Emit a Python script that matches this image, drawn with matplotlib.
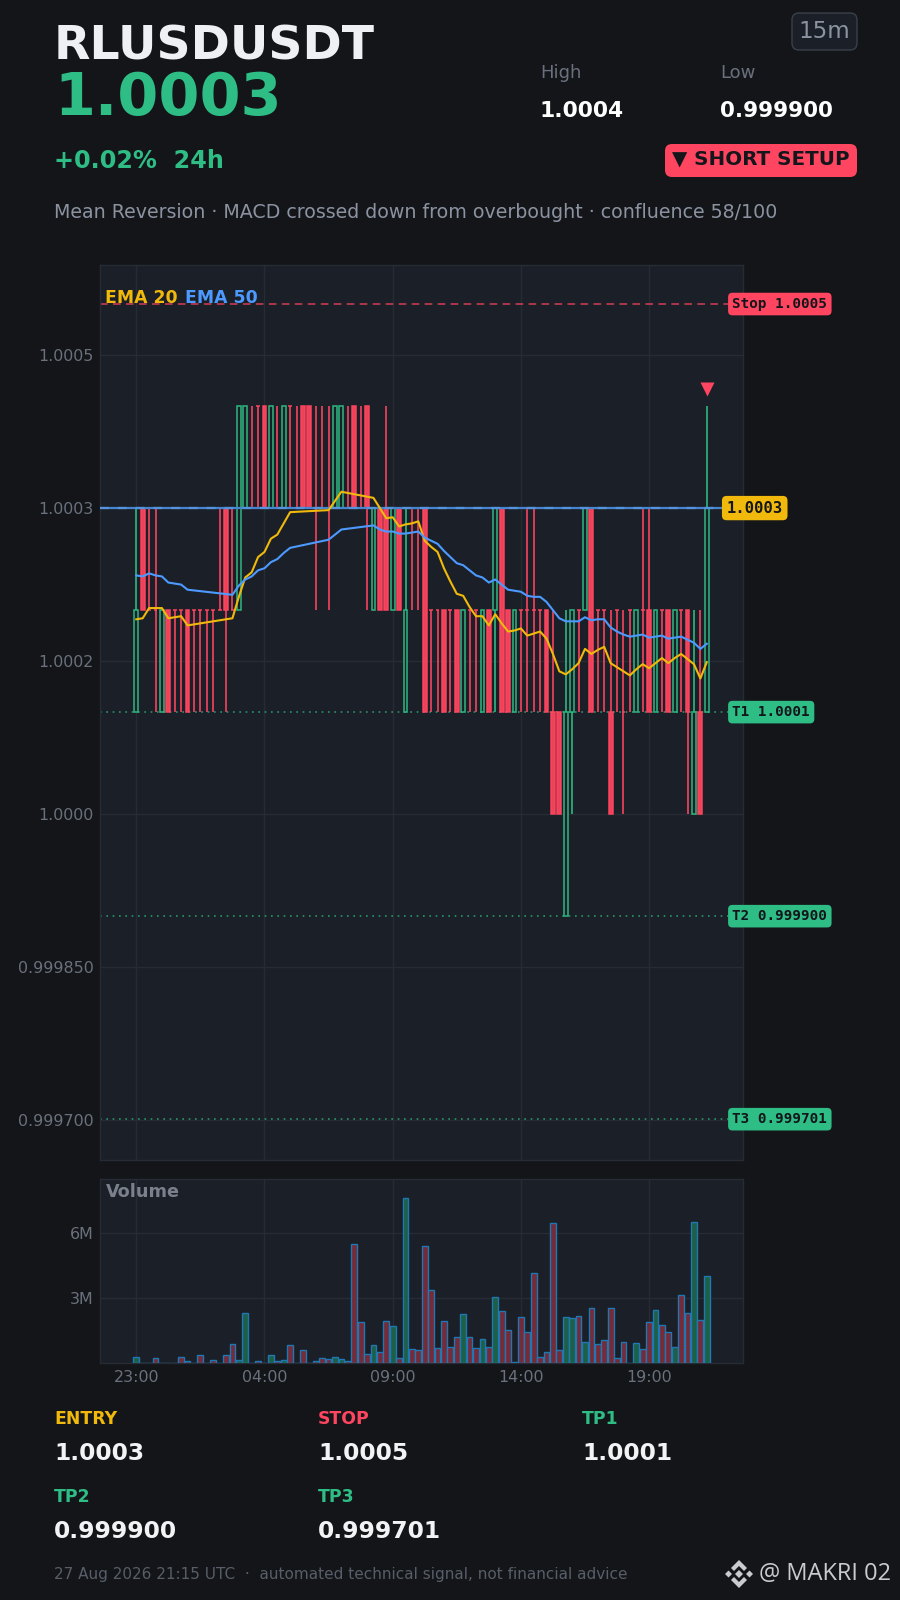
import matplotlib
matplotlib.use("Agg")
import matplotlib.pyplot as plt
from matplotlib.patches import FancyBboxPatch, Polygon
from matplotlib.transforms import Affine2D, ScaledTranslation, blended_transform_factory

plt.rcParams["font.family"] = "DejaVu Sans"

BG = "#131519"
PANEL = "#1b1f27"
GRID = "#272b33"
RED = "#ff4560"
GREEN = "#2ebd85"
YELLOW = "#f0b90b"
BLUE = "#4c9aff"
GRAY = "#8b93a1"
DIM = "#6a717d"

# ohlc, one row per 15m candle
opens = [1.0001,1.0003,1.0002,1.0002,1.0001,1.0002,1.0002,1.0002,1.0002,1.0002,
         1.0002,1.0002,1.0002,1.0002,1.0003,1.0002,1.0002,1.0003,1.0003,1.0004,
         1.0004,1.0003,1.0003,1.0003,1.0004,1.0003,1.0004,1.0004,1.0003,1.0003,
         1.0003,1.0003,1.0003,1.0003,1.0004,1.0003,1.0004,1.0002,1.0003,1.0003,
         1.0002,1.0003,1.0001,1.0003,1.0003,1.0003,1.0002,1.0002,1.0002,1.0002,
         1.0002,1.0001,1.0002,1.0002,1.0001,1.0002,1.0002,1.0003,1.0002,1.0001,
         1.0002,1.0002,1.0002,1.0002,1.0002,1.0001,1.0001,0.9999,1.0001,1.0002,
         1.0002,1.0003,1.0002,1.0002,1.0001,1.0002,1.0001,1.0002,1.0001,1.0002,
         1.0002,1.0001,1.0002,1.0002,1.0001,1.0002,1.0002,1.0000,1.0001,1.0001]
closes = [1.0002,1.0002,1.0002,1.0002,1.0002,1.0001,1.0002,1.0002,1.0001,1.0002,
          1.0002,1.0002,1.0002,1.0002,1.0002,1.0002,1.0004,1.0004,1.0003,1.0004,
          1.0003,1.0004,1.0003,1.0004,1.0004,1.0003,1.0003,1.0003,1.0003,1.0003,
          1.0003,1.0004,1.0004,1.0003,1.0003,1.0003,1.0003,1.0003,1.0002,1.0002,
          1.0003,1.0002,1.0002,1.0003,1.0003,1.0001,1.0002,1.0002,1.0001,1.0002,
          1.0001,1.0002,1.0002,1.0002,1.0002,1.0001,1.0003,1.0001,1.0001,1.0002,
          1.0002,1.0002,1.0002,1.0002,1.0001,1.0000,1.0000,1.0001,1.0002,1.0002,
          1.0003,1.0001,1.0002,1.0002,1.0000,1.0002,1.0001,1.0002,1.0002,1.0002,
          1.0001,1.0002,1.0002,1.0001,1.0002,1.0002,1.0001,1.0001,1.0000,1.0003]
highs = [1.0003,1.0003,1.0003,1.0003,1.0002,1.0002,1.0002,1.0002,1.0002,1.0002,
         1.0002,1.0002,1.0002,1.0003,1.0003,1.0003,1.0004,1.0004,1.0004,1.0004,
         1.0004,1.0004,1.0004,1.0004,1.0004,1.0004,1.0004,1.0004,1.0004,1.0004,
         1.0004,1.0004,1.0004,1.0004,1.0004,1.0004,1.0004,1.0003,1.0003,1.0004,
         1.0003,1.0003,1.0003,1.0003,1.0003,1.0003,1.0002,1.0002,1.0002,1.0002,
         1.0002,1.0002,1.0002,1.0002,1.0002,1.0002,1.0003,1.0003,1.0002,1.0002,
         1.0002,1.0003,1.0003,1.0002,1.0002,1.0002,1.0001,1.0002,1.0002,1.0002,
         1.0003,1.0003,1.0002,1.0002,1.0002,1.0002,1.0002,1.0002,1.0002,1.0003,
         1.0003,1.0002,1.0002,1.0002,1.0002,1.0002,1.0002,1.0002,1.0002,1.0004]
lows = [1.0001,1.0002,1.0002,1.0001,1.0001,1.0001,1.0001,1.0001,1.0001,1.0001,
        1.0001,1.0001,1.0001,1.0002,1.0001,1.0002,1.0002,1.0003,1.0003,1.0003,
        1.0003,1.0003,1.0003,1.0003,1.0003,1.0003,1.0003,1.0003,1.0002,1.0003,
        1.0002,1.0003,1.0003,1.0003,1.0003,1.0003,1.0002,1.0002,1.0002,1.0002,
        1.0002,1.0002,1.0001,1.0002,1.0002,1.0001,1.0001,1.0001,1.0001,1.0001,
        1.0001,1.0001,1.0001,1.0001,1.0001,1.0001,1.0001,1.0001,1.0001,1.0001,
        1.0001,1.0001,1.0001,1.0001,1.0001,1.0000,1.0000,0.9999,1.0000,1.0001,
        1.0002,1.0001,1.0001,1.0001,1.0000,1.0001,1.0000,1.0001,1.0001,1.0001,
        1.0001,1.0001,1.0001,1.0001,1.0001,1.0001,1.0000,1.0000,1.0000,1.0001]

# ema has no value on the very thin stretches, line just joins across them
ema_idx = [0,1,2,3,4,5,6,7,8,15,16,17,18,19,20,21,22,23,24,30,31,32,37,38,39,40,41,42,43,44,
           45,46,47,48,49,50,51,52,53,54,55,56,57,58,59,60,61,62,63,64,65,66,67,68,69,70,
           71,72,73,74,75,76,77,78,79,80,81,82,83,84,85,86,87,88,89]
ema20 = [1.000191,1.000192,1.000202,1.000202,1.000202,1.000192,1.000193,1.000194,1.000185,1.000192,
         1.000213,1.000232,1.000237,1.000252,1.000257,1.000270,1.000274,1.000285,1.000296,1.000298,
         1.000307,1.000316,1.000310,1.000300,1.000290,1.000291,1.000282,1.000284,1.000285,1.000287,
         1.000268,1.000262,1.000257,1.000241,1.000228,1.000216,1.000214,1.000203,1.000194,1.000194,
         1.000185,1.000196,1.000187,1.000179,1.000180,1.000182,1.000175,1.000177,1.000179,1.000172,
         1.000157,1.000140,1.000137,1.000142,1.000148,1.000162,1.000157,1.000161,1.000164,1.000148,
         1.000144,1.000140,1.000136,1.000142,1.000147,1.000143,1.000148,1.000153,1.000148,1.000153,
         1.000157,1.000152,1.000147,1.000133,1.000149]
ema50 = [1.000234,1.000233,1.000236,1.000234,1.000233,1.000227,1.000226,1.000225,1.000220,1.000215,
         1.000224,1.000230,1.000233,1.000239,1.000241,1.000247,1.000250,1.000256,1.000261,1.000269,
         1.000274,1.000279,1.000283,1.000279,1.000277,1.000277,1.000275,1.000275,1.000276,1.000277,
         1.000271,1.000268,1.000265,1.000258,1.000252,1.000246,1.000244,1.000239,1.000234,1.000232,
         1.000227,1.000230,1.000225,1.000220,1.000219,1.000218,1.000214,1.000213,1.000213,1.000208,
         1.000200,1.000192,1.000189,1.000189,1.000189,1.000193,1.000190,1.000191,1.000191,1.000183,
         1.000179,1.000176,1.000174,1.000175,1.000176,1.000173,1.000174,1.000175,1.000172,1.000173,
         1.000174,1.000171,1.000168,1.000162,1.000167]

# volume in millions
volume = [0.26,0,0,0.21,0,0,0,0.26,0.10,0,
          0.35,0,0.12,0,0.35,0.86,0.14,2.32,0,0.08,
          0,0.35,0.08,0.12,0.81,0,0.58,0,0.10,0.21,
          0.20,0.26,0.18,0.08,5.48,1.91,0.40,0.81,0.49,1.96,
          1.73,0.21,7.62,0.63,0.58,5.39,3.37,0.67,1.96,0.76,
          1.22,2.27,1.18,0.67,1.09,0.76,3.05,2.41,1.50,0.05,
          2.14,1.41,4.15,0.26,0.49,6.44,0.58,2.14,2.09,2.18,
          0.95,2.55,0.86,1.04,2.55,0.21,0.99,0,0.90,0.63,
          1.91,2.46,1.77,1.41,0.76,3.15,2.32,6.49,2.00,4.02]

price_ticks = [1.00045, 1.0003, 1.00015, 1.0, 0.99985, 0.9997]
price_labels = ["1.0005", "1.0003", "1.0002", "1.0000", "0.999850", "0.999700"]
time_ticks = [0, 20, 40, 60, 80]
time_labels = ["23:00", "04:00", "09:00", "14:00", "19:00"]
vol_ticks = [3, 6]
vol_labels = ["3M", "6M"]

last_price = 1.0003
stop = 1.0005
tp1 = 1.0001
tp2 = 0.9999
tp3 = 0.999701

W, H = 900, 1600
fig = plt.figure(figsize=(9, 16), dpi=100, facecolor=BG)
px = Affine2D().scale(1 / W, -1 / H).translate(0, 1) + fig.transFigure


def put(x, y, s, **kw):
    kw.setdefault("va", "center")
    return fig.text(x / W, 1 - y / H, s, **kw)


def make_axes(left, top, right, bottom):
    ax = fig.add_axes([left / W, 1 - bottom / H, (right - left) / W, (bottom - top) / H])
    ax.set_facecolor(PANEL)
    for sp in ax.spines.values():
        sp.set_color(GRID)
        sp.set_linewidth(1)
    ax.grid(True, color=GRID, linewidth=1)
    ax.set_axisbelow(True)
    ax.tick_params(length=0, labelsize=11.4, labelcolor=DIM, pad=4.5)
    ax.set_xlim(-5.66, 94.65)
    ax.set_xticks(time_ticks)
    return ax


ax = make_axes(100, 264.5, 743, 1160)
ax.set_ylim(0.999661, 1.00053875)
ax.set_yticks(price_ticks)
ax.set_yticklabels(price_labels)
ax.set_xticklabels([])

# candles
for i in range(len(opens)):
    up = closes[i] > opens[i]
    col = GREEN if up else RED
    lo, hi = min(opens[i], closes[i]), max(opens[i], closes[i])
    ax.plot([i, i], [lows[i], lo], color=col, lw=1.15, zorder=3, solid_capstyle="butt")
    ax.plot([i, i], [hi, highs[i]], color=col, lw=1.15, zorder=3, solid_capstyle="butt")
    ax.bar(i, hi - lo, bottom=lo, width=0.6, zorder=3, linewidth=1.15, edgecolor=col,
           facecolor=PANEL if up else col, alpha=0.93)

ax.axhline(stop, color=RED, lw=1.1, ls=(0, (5, 3.5)), alpha=0.8, zorder=2)
for t in [tp1, tp2, tp3]:
    ax.axhline(t, color=GREEN, lw=1.2, ls=(0, (1, 2.8)), alpha=0.75, zorder=2)
ax.axhline(last_price, color="#4684cf", lw=1.6, zorder=4)
ax.axhline(last_price, color="#5593dc", lw=1.6, ls=(0, (4, 4)), zorder=4)

ax.plot(ema_idx, ema20, color=YELLOW, lw=1.5, zorder=5)
ax.plot(ema_idx, ema50, color=BLUE, lw=1.5, zorder=5)

ax.plot(89, highs[89], marker="v", ms=9.5, color=RED, mec="none", zorder=6, clip_on=False,
        transform=ax.transData + ScaledTranslation(0, 17 / 100, fig.dpi_scale_trans))

tag_tr = blended_transform_factory(ax.transAxes, ax.transData)
ax.text(0.0085, stop + 0.0000055, "EMA 20", color=YELLOW, fontsize=12.4, fontweight="bold", transform=tag_tr, va="center")
ax.text(0.1325, stop + 0.0000055, "EMA 50", color=BLUE, fontsize=12.4, fontweight="bold", transform=tag_tr, va="center")

# right side price tags
tags = [(stop, "Stop 1.0005", RED, 0.9835, 10.3),
        (last_price, "1.0003", YELLOW, 0.9745, 11.2),
        (tp1, "T1 1.0001", GREEN, 0.9835, 10.3),
        (tp2, "T2 0.999900", GREEN, 0.9835, 10.3),
        (tp3, "T3 0.999701", GREEN, 0.9835, 10.3)]
for val, s, col, xf, size in tags:
    ax.text(xf, val, s, transform=tag_tr, color="#12151a", fontsize=size, fontweight="bold",
            family="DejaVu Sans Mono", va="center", ha="left", zorder=8, clip_on=False,
            bbox=dict(boxstyle="round,pad=0.3,rounding_size=0.3", fc=col, ec="none"))

vax = make_axes(100, 1179, 743, 1363)
vax.set_ylim(0, 8.49)
vax.set_yticks(vol_ticks)
vax.set_yticklabels(vol_labels)
vax.set_xticklabels(time_labels)
vax.tick_params(axis="x", pad=5)
vol_cols = ["#1d6047" if closes[i] > opens[i] else "#752b38" for i in range(len(volume))]
vax.bar(range(len(volume)), volume, width=0.9, color=vol_cols, edgecolor="#1f77b4", linewidth=1, zorder=3)
vax.text(0.0085, 0.93, "Volume", transform=vax.transAxes, color="#7a818d", fontsize=12.7, fontweight="bold", va="center")

# header
put(54, 47, "RLUSDUSDT", color="#eef0f4", fontsize=34, fontweight="bold")
put(54, 99, "1.0003", color=GREEN, fontsize=42.4, fontweight="bold")
put(54, 161, "+0.02%  24h", color=GREEN, fontsize=17.2, fontweight="bold")
put(54, 213, "Mean Reversion · MACD crossed down from overbought · confluence 58/100", color=GRAY, fontsize=13.73)
put(540, 72.5, "High", color=DIM, fontsize=13)
put(720, 72.5, "Low", color=DIM, fontsize=13)
put(540, 111, "1.0004", color="white", fontsize=15.7, fontweight="bold")
put(720, 111, "0.999900", color="white", fontsize=15.5, fontweight="bold")

fig.add_artist(FancyBboxPatch((792, 13), 65, 37, transform=px, boxstyle="round,pad=0,rounding_size=7",
                              fc=PANEL, ec="#3a404b", lw=1))
put(824.5, 31, "15m", color=GRAY, fontsize=16.5, ha="center")

fig.add_artist(FancyBboxPatch((665, 144), 192, 33, transform=px, boxstyle="round,pad=0,rounding_size=7",
                              fc=RED, ec="none"))
put(761, 159, "▼ SHORT SETUP", color="#14161b", fontsize=14.3, fontweight="bold", ha="center")

# trade levels
stat_rows = [(54, 1418, "ENTRY", YELLOW, "1.0003"), (318, 1418, "STOP", RED, "1.0005"),
             (582, 1418, "TP1", GREEN, "1.0001"), (54, 1496, "TP2", GREEN, "0.999900"),
             (318, 1496, "TP3", GREEN, "0.999701")]
for x, y, name, col, val in stat_rows:
    put(x, y + 1, name, color=col, fontsize=12.4, fontweight="bold")
    put(x, y + 36, val, color="#f2f3f5", fontsize=16.8, fontweight="bold")

put(54, 1574, "27 Aug 2026 21:15 UTC  ·  automated technical signal, not financial advice", color="#585e69", fontsize=11)

# watermark
put(759, 1574, "@ MAKRI 02", color="#c9cbce", fontsize=17, family="Open Sans")
cx, cy = 739, 1574
logo = [[(0, -4), (4, 0), (0, 4), (-4, 0)],
        [(-14, 0), (-10.5, -3.5), (-7, 0), (-10.5, 3.5)],
        [(14, 0), (10.5, -3.5), (7, 0), (10.5, 3.5)],
        [(0, -14), (8, -6), (5, -3), (0, -8), (-5, -3), (-8, -6)],
        [(0, 14), (8, 6), (5, 3), (0, 8), (-5, 3), (-8, 6)]]
for shape in logo:
    pts = [(cx + a, cy + b) for a, b in shape]
    fig.add_artist(Polygon(pts, closed=True, transform=px, fc="#c9cbce", ec="none"))

fig.savefig("out.png", dpi=100, facecolor=BG)
